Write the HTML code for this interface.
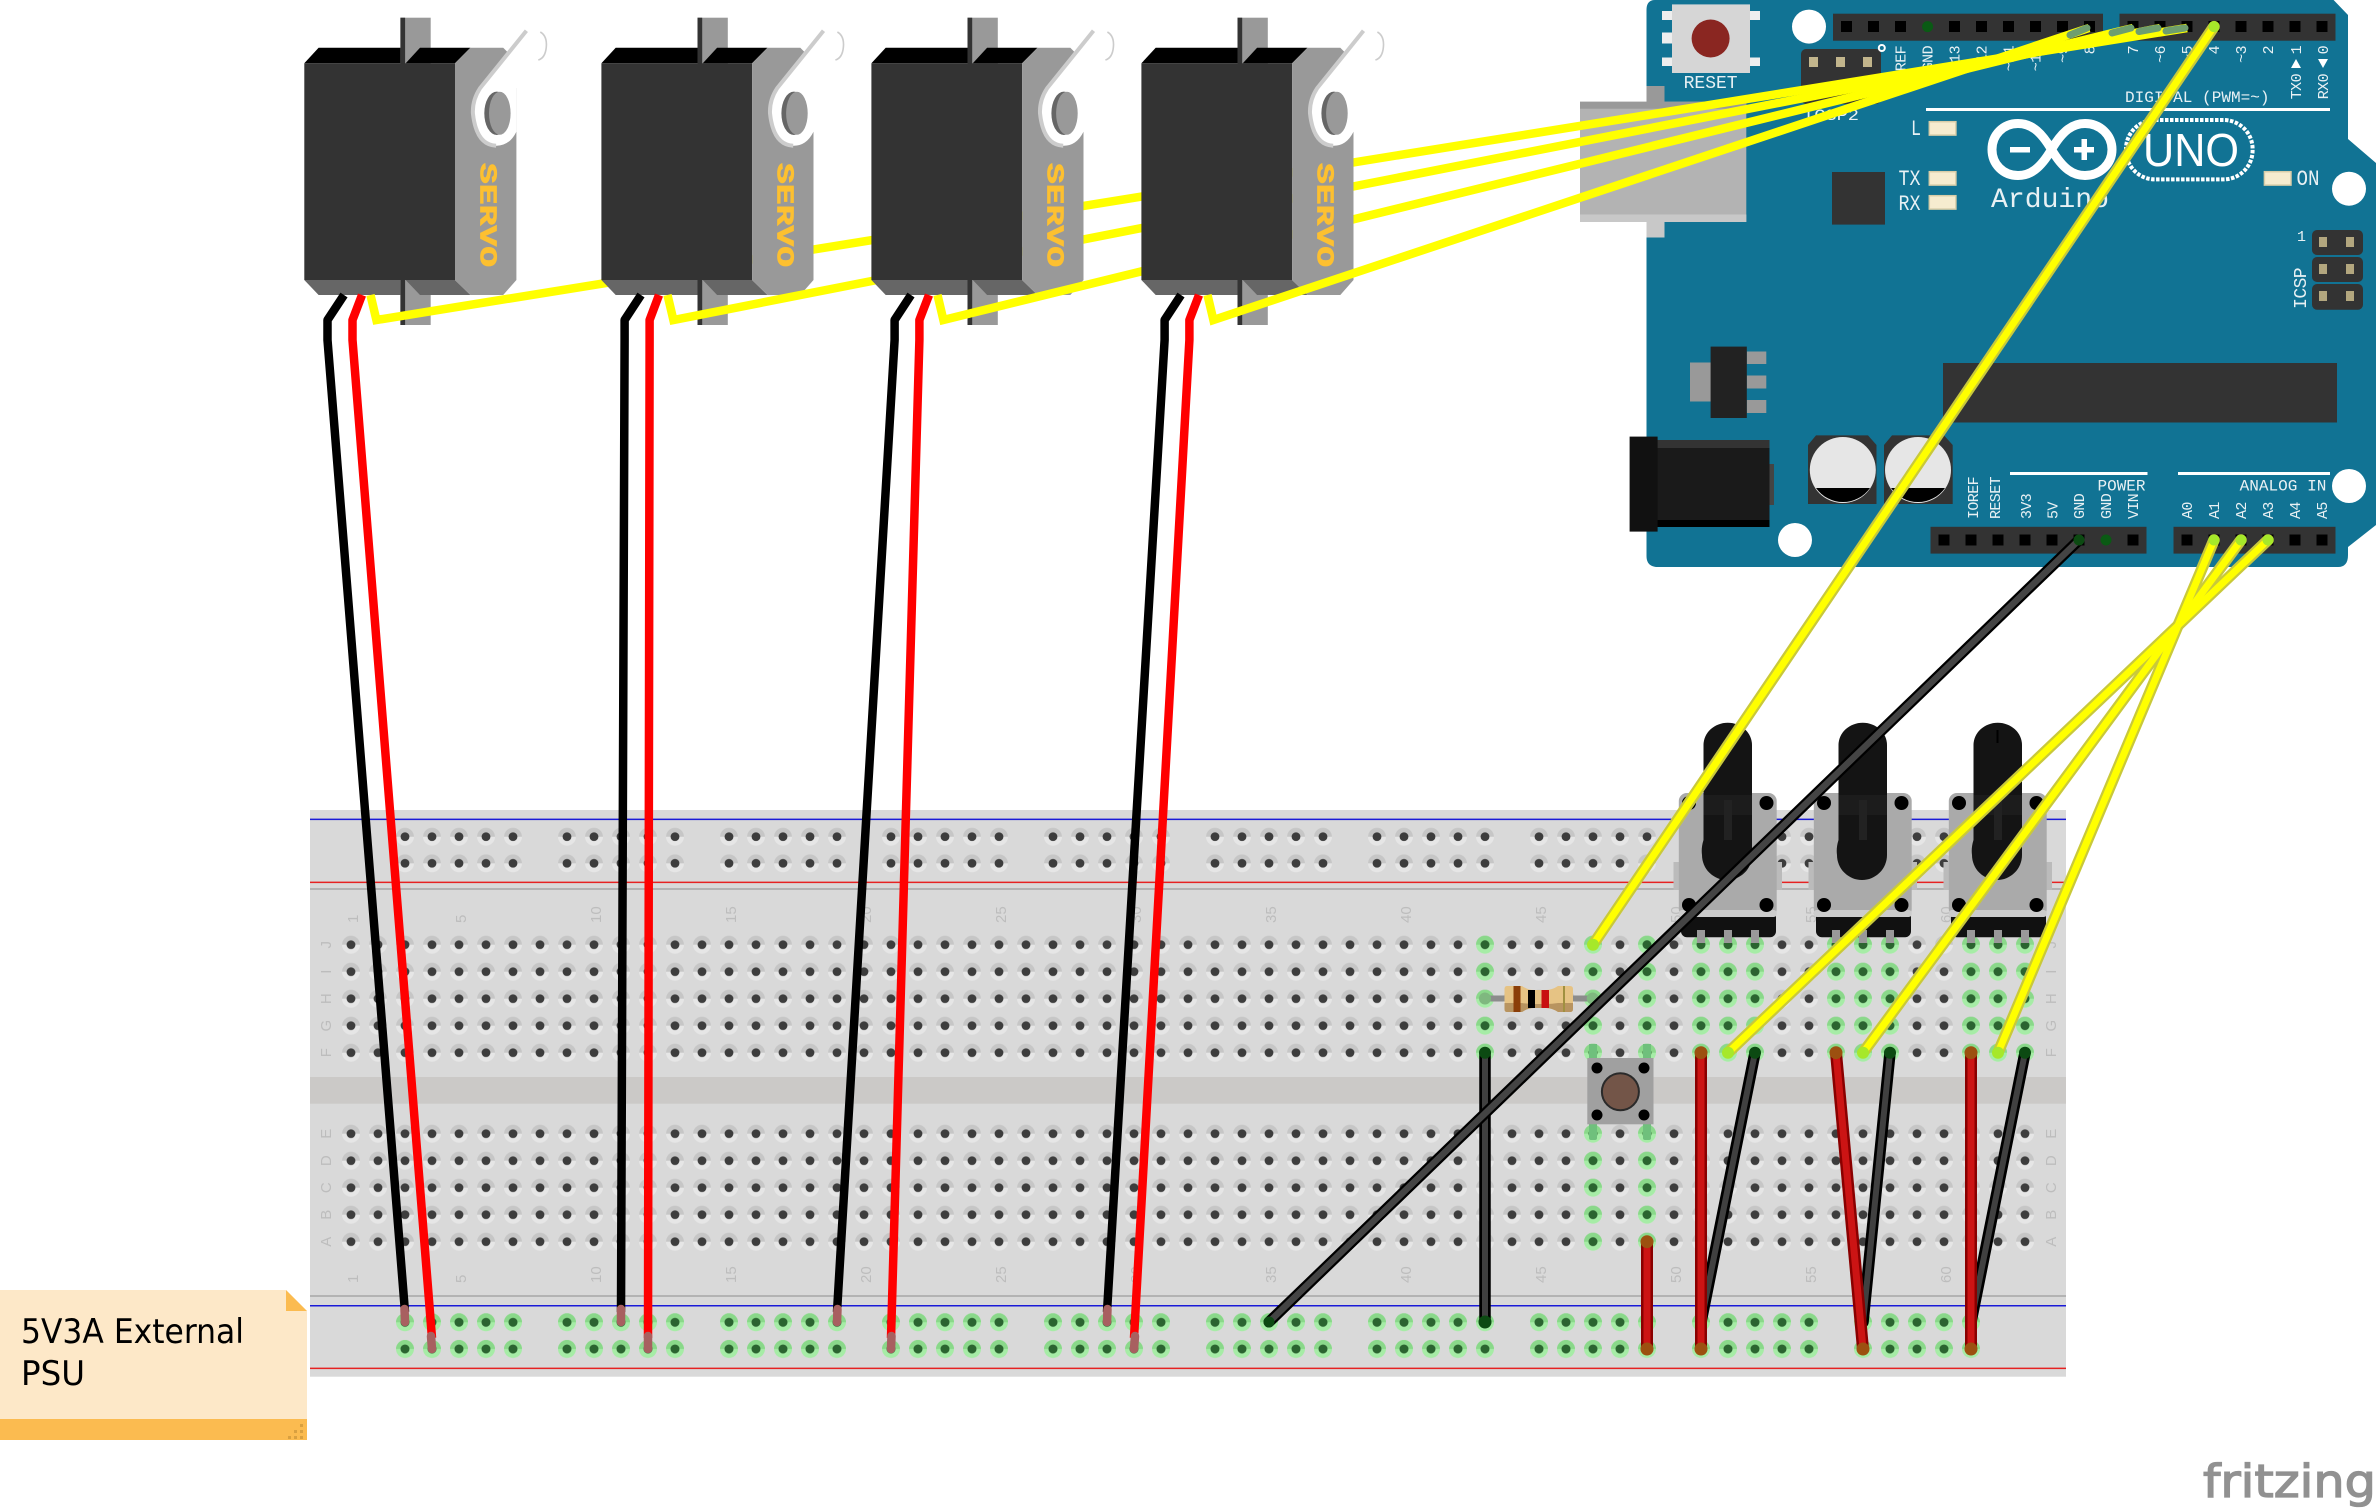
<!DOCTYPE html>
<html><head><meta charset="utf-8"><title>Fritzing diagram</title>
<style>html,body{margin:0;padding:0;background:#fff}svg{display:block}</style></head>
<body>
<svg xmlns="http://www.w3.org/2000/svg" width="2376" height="1509" viewBox="0 0 2376 1509">
<defs>
<g id="hole"><circle cx="13.5" cy="13.5" r="9" fill="#e6e6e6"/><path d="M4.5 13.5a9 9 0 0 1 18 0z" fill="#c6c6c6"/><circle cx="13.5" cy="13.5" r="4.4" fill="#3d3d3d"/></g>
<g id="ghole"><circle cx="13.5" cy="13.5" r="9" fill="#a6eca6"/><path d="M4.5 13.5a9 9 0 0 1 18 0z" fill="#8ad88a"/><circle cx="13.5" cy="13.5" r="4.5" fill="#2b6430"/></g>
<pattern id="hT" patternUnits="userSpaceOnUse" x="337.5" y="823.2" width="27" height="26.6"><use href="#hole"/></pattern>
<pattern id="hU" patternUnits="userSpaceOnUse" x="337.5" y="931.2" width="27" height="27"><use href="#hole"/></pattern>
<pattern id="hL" patternUnits="userSpaceOnUse" x="337.5" y="1120.2" width="27" height="27"><use href="#hole"/></pattern>
<pattern id="gU" patternUnits="userSpaceOnUse" x="337.5" y="931.2" width="27" height="27"><use href="#ghole"/></pattern>
<pattern id="gL" patternUnits="userSpaceOnUse" x="337.5" y="1120.2" width="27" height="27"><use href="#ghole"/></pattern>
<pattern id="gB" patternUnits="userSpaceOnUse" x="337.5" y="1308.8" width="27" height="26.7"><use href="#ghole"/></pattern>
<g id="servo">
 <rect x="96.1" y="17.7" width="30.3" height="307.3" fill="#999"/>
 <rect x="96.1" y="17.7" width="4.7" height="307.3" fill="#333"/>
 <rect x="0" y="63.3" width="150.7" height="216.7" fill="#333"/>
 <polygon points="0,63.3 14.3,47.7 96.1,47.7 96.1,63.3" fill="#000"/>
 <polygon points="101.4,63.3 115.7,47.7 166.1,47.7 150.7,63.3" fill="#000"/>
 <polygon points="0,280 14.3,295 96.1,295 96.1,280" fill="#666"/>
 <polygon points="101.4,280 115.7,295 166.1,295 150.7,280" fill="#666"/>
 <polygon points="150.7,63.3 166.1,47.7 198.9,47.7 212.1,61 212.1,280 198.9,295 166.1,295 150.7,280" fill="#999"/>
 <path d="M222.1 30.7Q228 27 233 29.3Q243 36 242 47Q241 58 234 60L212.1 88V131.7Q205 146 191.8 145.7Q172 145 168.6 113.3Q168 100 175.7 88.3Z" fill="#fff"/>
 <path d="M222.1 30.7L175.7 88.3Q168 100 168.6 113.3Q172 145 191.8 145.7" fill="none" stroke="#ccc" stroke-width="4"/>
 <path d="M236 32Q243 36 242 47Q241 58 234 60" fill="none" stroke="#ccc" stroke-width="1.6"/>
 <ellipse cx="192.5" cy="113.3" rx="12.5" ry="21.7" fill="#666"/>
 <ellipse cx="195.5" cy="113.3" rx="10.8" ry="21.5" fill="#999"/>
</g>
<g id="pot">
 <rect x="1673.5" y="862" width="6" height="28" fill="#bbb"/><rect x="1776" y="862" width="6" height="28" fill="#bbb"/>
 <rect x="1681" y="905" width="95" height="32.3" rx="6" fill="#111"/>
 <rect x="1697" y="930" width="8" height="13" fill="#999"/><rect x="1724" y="930" width="8" height="13" fill="#999"/><rect x="1751" y="930" width="8" height="13" fill="#999"/>
 <rect x="1678.8" y="793" width="97.9" height="124" rx="8" fill="#aaa"/>
 <rect x="1678.8" y="910" width="97.9" height="7" rx="3" fill="#ccc"/>
 <circle cx="1689" cy="803" r="7" fill="#000"/><circle cx="1766.5" cy="803" r="7" fill="#000"/><circle cx="1689" cy="905" r="7" fill="#000"/><circle cx="1766.5" cy="905" r="7" fill="#000"/>
 <path d="M1703.5 745a24 22 0 0 1 48.500 0V855a25 25 0 0 1-50 0Q1701 848 1703.500 840Z" fill="#141414"/>
 <rect x="1703.500" y="795" width="48.500" height="20" fill="#1c1c1c"/><rect x="1724" y="800" width="8" height="40" fill="#222"/>
</g>
</defs>

<!-- breadboard -->
<rect x="310" y="810" width="1756" height="566.700" fill="#d9d9d9"/>
<rect x="310" y="1077" width="1756" height="26.700" fill="#cbc9c7"/>
<rect x="310" y="888" width="1756" height="2" fill="#b3b3b3"/><rect x="310" y="1295" width="1756" height="2" fill="#b3b3b3"/>
<rect x="310" y="818.600" width="1756" height="1.500" fill="#1a1ad8"/><rect x="310" y="881.600" width="1756" height="1.500" fill="#e62222"/>
<rect x="310" y="1305" width="1756" height="1.500" fill="#1a1ad8"/><rect x="310" y="1367.600" width="1756" height="1.500" fill="#e62222"/>
<rect x="337.500" y="931.200" width="1701" height="135" fill="url(#hU)"/>
<rect x="337.500" y="1120.200" width="1701" height="135" fill="url(#hL)"/>
<g fill="url(#hT)"><rect x="391.500" y="823.200" width="135" height="53.200"/><rect x="553.500" y="823.200" width="135" height="53.200"/><rect x="715.500" y="823.200" width="135" height="53.200"/><rect x="877.500" y="823.200" width="135" height="53.200"/><rect x="1039.500" y="823.200" width="135" height="53.200"/><rect x="1201.500" y="823.200" width="135" height="53.200"/><rect x="1363.500" y="823.200" width="135" height="53.200"/><rect x="1525.500" y="823.200" width="135" height="53.200"/><rect x="1687.500" y="823.200" width="135" height="53.200"/><rect x="1849.500" y="823.200" width="135" height="53.200"/></g>
<g fill="url(#gB)"><rect x="391.500" y="1308.800" width="135" height="53.400"/><rect x="553.500" y="1308.800" width="135" height="53.400"/><rect x="715.500" y="1308.800" width="135" height="53.400"/><rect x="877.500" y="1308.800" width="135" height="53.400"/><rect x="1039.500" y="1308.800" width="135" height="53.400"/><rect x="1201.500" y="1308.800" width="135" height="53.400"/><rect x="1363.500" y="1308.800" width="135" height="53.400"/><rect x="1525.500" y="1308.800" width="135" height="53.400"/><rect x="1687.500" y="1308.800" width="135" height="53.400"/><rect x="1849.500" y="1308.800" width="135" height="53.400"/></g>
<g fill="url(#gU)"><rect x="1471.500" y="931.200" width="27" height="135"/><rect x="1579.500" y="931.200" width="27" height="135"/><rect x="1633.500" y="931.200" width="27" height="135"/><rect x="1687.500" y="931.200" width="81" height="135"/><rect x="1822.500" y="931.200" width="81" height="135"/><rect x="1957.500" y="931.200" width="81" height="135"/></g>
<g fill="url(#gL)"><rect x="1579.500" y="1120.200" width="27" height="135"/><rect x="1633.500" y="1120.200" width="27" height="135"/></g>

<!-- breadboard labels -->
<g font-family="'Liberation Sans',sans-serif" font-size="15" fill="#bdbdbd">
<text transform="translate(358,923) rotate(-90)">1</text><text transform="translate(466,923) rotate(-90)">5</text><text transform="translate(601,923) rotate(-90)">10</text><text transform="translate(736,923) rotate(-90)">15</text><text transform="translate(871,923) rotate(-90)">20</text><text transform="translate(1006,923) rotate(-90)">25</text><text transform="translate(1141,923) rotate(-90)">30</text><text transform="translate(1276,923) rotate(-90)">35</text><text transform="translate(1411,923) rotate(-90)">40</text><text transform="translate(1546,923) rotate(-90)">45</text><text transform="translate(1681,923) rotate(-90)">50</text><text transform="translate(1816,923) rotate(-90)">55</text><text transform="translate(1951,923) rotate(-90)">60</text>
<text transform="translate(358,1283) rotate(-90)">1</text><text transform="translate(466,1283) rotate(-90)">5</text><text transform="translate(601,1283) rotate(-90)">10</text><text transform="translate(736,1283) rotate(-90)">15</text><text transform="translate(871,1283) rotate(-90)">20</text><text transform="translate(1006,1283) rotate(-90)">25</text><text transform="translate(1141,1283) rotate(-90)">30</text><text transform="translate(1276,1283) rotate(-90)">35</text><text transform="translate(1411,1283) rotate(-90)">40</text><text transform="translate(1546,1283) rotate(-90)">45</text><text transform="translate(1681,1283) rotate(-90)">50</text><text transform="translate(1816,1283) rotate(-90)">55</text><text transform="translate(1951,1283) rotate(-90)">60</text>
<g text-anchor="middle">
<text transform="translate(331,944.700) rotate(-90)">J</text><text transform="translate(331,971.700) rotate(-90)">I</text><text transform="translate(331,998.700) rotate(-90)">H</text><text transform="translate(331,1025.700) rotate(-90)">G</text><text transform="translate(331,1052.700) rotate(-90)">F</text>
<text transform="translate(331,1133.700) rotate(-90)">E</text><text transform="translate(331,1160.700) rotate(-90)">D</text><text transform="translate(331,1187.700) rotate(-90)">C</text><text transform="translate(331,1214.700) rotate(-90)">B</text><text transform="translate(331,1241.700) rotate(-90)">A</text>
<text transform="translate(2056,944.700) rotate(-90)">J</text><text transform="translate(2056,971.700) rotate(-90)">I</text><text transform="translate(2056,998.700) rotate(-90)">H</text><text transform="translate(2056,1025.700) rotate(-90)">G</text><text transform="translate(2056,1052.700) rotate(-90)">F</text>
<text transform="translate(2056,1133.700) rotate(-90)">E</text><text transform="translate(2056,1160.700) rotate(-90)">D</text><text transform="translate(2056,1187.700) rotate(-90)">C</text><text transform="translate(2056,1214.700) rotate(-90)">B</text><text transform="translate(2056,1241.700) rotate(-90)">A</text>
</g></g>

<!-- resistor -->
<rect x="1485" y="995.500" width="108" height="6" fill="#8c8c8c"/>
<circle cx="1485" cy="998.500" r="6" fill="#7fb87f"/><circle cx="1592.700" cy="998.500" r="6" fill="#7fb87f"/>
<path d="M1507 986H1522Q1528 990 1534 990H1546Q1552 990 1558 986H1570Q1573 986 1573 989V1009Q1573 1012 1570 1012H1558Q1552 1008 1546 1008H1534Q1528 1008 1522 1012H1507Q1504.500 1012 1504.500 1009V989Q1504.500 986 1507 986Z" fill="#e6c384"/>
<path d="M1504.500 1003H1522Q1528 1004 1534 1004H1546Q1552 1004 1558 1003H1573V1009Q1573 1012 1570 1012H1558Q1552 1008 1546 1008H1534Q1528 1008 1522 1012H1507Q1504.500 1012 1504.500 1009Z" fill="#b89460"/>
<rect x="1513.500" y="986" width="7" height="26" fill="#8b3e08"/><rect x="1528" y="990" width="7" height="18" fill="#000"/><rect x="1541.500" y="990" width="7.500" height="18" fill="#c81010"/><rect x="1563" y="986" width="2" height="26" fill="#a09040"/>

<!-- button -->
<rect x="1589" y="1044" width="8" height="20" fill="#6fc07c"/><rect x="1643" y="1044" width="8" height="20" fill="#6fc07c"/>
<rect x="1589" y="1120" width="8" height="20" rx="2" fill="#6fc07c"/><rect x="1643" y="1120" width="8" height="20" rx="2" fill="#6fc07c"/>
<rect x="1587.300" y="1058" width="66.200" height="66.300" fill="#a0a0a0"/>
<circle cx="1597" cy="1068" r="5.500" fill="#000"/><circle cx="1644" cy="1068" r="5.500" fill="#000"/><circle cx="1597" cy="1115" r="5.500" fill="#000"/><circle cx="1644" cy="1115" r="5.500" fill="#000"/>
<circle cx="1620.400" cy="1091.700" r="18.500" fill="#735548" stroke="#2a2a2a" stroke-width="2"/>

<!-- pots -->
<use href="#pot"/><use href="#pot" x="135"/><use href="#pot" x="270"/>
<rect x="1996.500" y="730" width="2" height="13" fill="#000"/>

<!-- arduino -->
<path d="M1655 0H2333.600L2348 15V139L2376 163V525L2348 547V555Q2348 567 2338 567H1658Q1646.500 567 1646.500 556V10Q1646.500 0 1655 0Z" fill="#117394"/>
<rect x="1580" y="101.700" width="166.300" height="120.300" fill="#b3b3b3"/>
<rect x="1580" y="101.700" width="166.300" height="7" fill="#999"/><rect x="1580" y="214.500" width="166.300" height="7.500" fill="#c8c8c8"/>
<rect x="1646.500" y="86" width="18" height="16" fill="#999"/><rect x="1646.500" y="222" width="18" height="15.500" fill="#c8c8c8"/>
<rect x="1672" y="4.400" width="78" height="68.600" fill="#d6d6d6"/>
<g fill="#eee"><rect x="1662" y="11" width="10" height="9"/><rect x="1662" y="32.500" width="10" height="11"/><rect x="1662" y="57.500" width="10" height="8.500"/><rect x="1750" y="11" width="10" height="9"/><rect x="1750" y="57.500" width="10" height="8.500"/></g>
<circle cx="1710.600" cy="38.500" r="19" fill="#8a2621"/>
<g fill="#fff"><circle cx="1809" cy="26.600" r="17"/><circle cx="2349" cy="188.700" r="17"/><circle cx="2349" cy="486" r="17"/><circle cx="1795" cy="540" r="17"/></g>
<g fill="#333"><rect x="1833" y="13.700" width="270" height="27"/><rect x="2119.500" y="13.700" width="216" height="27"/><rect x="1930.500" y="526.800" width="216" height="26.800"/><rect x="2173.500" y="526.800" width="162" height="26.800"/><rect x="1801" y="49" width="80" height="55" rx="5"/></g>
<g fill="#000"><rect x="1841" y="21" width="11" height="11"/><rect x="1868" y="21" width="11" height="11"/><rect x="1895" y="21" width="11" height="11"/><rect x="1949" y="21" width="11" height="11"/><rect x="1976" y="21" width="11" height="11"/><rect x="2003" y="21" width="11" height="11"/><rect x="2030" y="21" width="11" height="11"/><rect x="2057" y="21" width="11" height="11"/><rect x="2084" y="21" width="11" height="11"/><rect x="2127.500" y="21" width="11" height="11"/><rect x="2154.500" y="21" width="11" height="11"/><rect x="2181.500" y="21" width="11" height="11"/><rect x="2208.500" y="21" width="11" height="11"/><rect x="2235.500" y="21" width="11" height="11"/><rect x="2262.500" y="21" width="11" height="11"/><rect x="2289.500" y="21" width="11" height="11"/><rect x="2316.500" y="21" width="11" height="11"/>
<rect x="1938.500" y="534.500" width="11" height="11"/><rect x="1965.500" y="534.500" width="11" height="11"/><rect x="1992.500" y="534.500" width="11" height="11"/><rect x="2019.500" y="534.500" width="11" height="11"/><rect x="2046.500" y="534.500" width="11" height="11"/><rect x="2073.500" y="534.500" width="11" height="11"/><rect x="2127.500" y="534.500" width="11" height="11"/><rect x="2181.500" y="534.500" width="11" height="11"/><rect x="2208.500" y="534.500" width="11" height="11"/><rect x="2235.500" y="534.500" width="11" height="11"/><rect x="2262.500" y="534.500" width="11" height="11"/><rect x="2289.500" y="534.500" width="11" height="11"/><rect x="2316.500" y="534.500" width="11" height="11"/></g>
<ellipse cx="1927.600" cy="26.600" rx="5.500" ry="5.500" fill="#0a5a14"/><ellipse cx="2106" cy="540" rx="5.500" ry="5.500" fill="#0a5a14"/>
<g fill="#c2b58c"><rect x="1809" y="57" width="9" height="10"/><rect x="1836" y="57" width="9" height="10"/><rect x="1863" y="57" width="9" height="10"/></g>
<circle cx="1881.800" cy="48" r="3" fill="#117394" stroke="#fff" stroke-width="2"/>
<!-- logo -->
<path d="M2051.500 149.500C2040 130 2030 123.500 2018 123.500C2003 123.500 1992 135 1992 149.500C1992 164 2003 175.500 2018 175.500C2030 175.500 2040 169 2051.500 149.500C2063 130 2073 123.500 2085 123.500C2100 123.500 2112 135 2112 149.500C2112 164 2100 175.500 2085 175.500C2073 175.500 2063 169 2051.500 149.500Z" fill="none" stroke="#fff" stroke-width="9"/>
<rect x="2010" y="147" width="20" height="5.500" fill="#fff"/><rect x="2074" y="147" width="20" height="5.500" fill="#fff"/><rect x="2081.500" y="139" width="5.500" height="21" fill="#fff"/>
<rect x="2126" y="120" width="126.600" height="59.400" rx="29" fill="none" stroke="#fff" stroke-width="4" stroke-dasharray="3.500 1.500"/>
<rect x="1926" y="108" width="404" height="3" fill="#fff"/><rect x="2010" y="472" width="137.500" height="3" fill="#fff"/><rect x="2178" y="472" width="152" height="3" fill="#fff"/>
<!-- leds -->
<g fill="#f6eccf" stroke="#d8cda8" stroke-width="1.500"><rect x="1929.300" y="121.700" width="26.600" height="13.400"/><rect x="1929.300" y="171.700" width="26.600" height="13.400"/><rect x="1929.300" y="195.700" width="26.600" height="13.400"/><rect x="2264.400" y="171.700" width="26.600" height="13.400"/></g>
<!-- chips -->
<rect x="1832" y="172" width="53" height="52.600" fill="#333"/>
<rect x="1943" y="363" width="394" height="59.500" fill="#333"/>
<g fill="#999"><rect x="1690" y="362.500" width="21" height="39"/><rect x="1746.800" y="351.500" width="19.500" height="12.500"/><rect x="1746.800" y="375.500" width="19.500" height="13"/><rect x="1746.800" y="400" width="19.500" height="13"/></g>
<rect x="1710.600" y="346.600" width="36.200" height="71.400" fill="#222"/>
<rect x="1769" y="464" width="5" height="41" fill="#444"/>
<rect x="1657" y="440" width="112.500" height="87" fill="#1a1a1a"/><rect x="1657" y="440" width="112.500" height="8" fill="#333"/><rect x="1657" y="520" width="112.500" height="7" fill="#000"/>
<rect x="1629.600" y="436.600" width="28" height="95" fill="#111"/>
<polygon points="1816,435.400 1868,435.400 1876.500,445 1876.500,504 1808,504 1808,445" fill="#333"/>
<polygon points="1892,435.400 1944,435.400 1952.700,445 1952.700,504 1884,504 1884,445" fill="#333"/>
<circle cx="1842.800" cy="470" r="33" fill="#e6e6e6"/><path d="M1816 488H1870A33 33 0 0 1 1816 488Z" fill="#000"/>
<circle cx="1918" cy="470" r="33" fill="#e6e6e6"/><path d="M1891 488H1945A33 33 0 0 1 1891 488Z" fill="#000"/>
<g fill="#333"><rect x="2312" y="230" width="51" height="25" rx="5"/><rect x="2312" y="257" width="51" height="25" rx="5"/><rect x="2312" y="284" width="51" height="25.700" rx="5"/></g>
<g fill="#b3a77f"><rect x="2319" y="237" width="8" height="10"/><rect x="2346" y="237" width="8" height="10"/><rect x="2319" y="264" width="8" height="10"/><rect x="2346" y="264" width="8" height="10"/><rect x="2319" y="291" width="8" height="10"/><rect x="2346" y="291" width="8" height="10"/></g>
<!-- arduino text -->
<g font-family="'Liberation Mono',monospace" fill="#e8f1f4" font-size="15" letter-spacing="-0.6">
<text x="1683.600" y="88" font-size="18" letter-spacing="0" textLength="54" lengthAdjust="spacingAndGlyphs">RESET</text>
<text x="1803" y="120" font-size="16" letter-spacing="0" textLength="56" lengthAdjust="spacingAndGlyphs">ICSP2</text>
<text x="2125" y="102" font-size="16" letter-spacing="0" textLength="144.500" lengthAdjust="spacingAndGlyphs">DIGITAL (PWM=~)</text>
<text x="2145.500" y="490.500" text-anchor="end" font-size="16" letter-spacing="0">POWER</text>
<text x="2239.600" y="490.500" font-size="16" letter-spacing="0" textLength="86.800" lengthAdjust="spacingAndGlyphs">ANALOG IN</text>
<text x="1911" y="135" font-size="22" letter-spacing="0" textLength="10" lengthAdjust="spacingAndGlyphs">L</text><text x="1898.500" y="185" font-size="22" letter-spacing="0" textLength="22" lengthAdjust="spacingAndGlyphs">TX</text><text x="1898.500" y="210" font-size="22" letter-spacing="0" textLength="22" lengthAdjust="spacingAndGlyphs">RX</text><text x="2296.500" y="185" font-size="22" letter-spacing="0" textLength="23" lengthAdjust="spacingAndGlyphs">ON</text>
<text x="1991" y="207" font-size="28" letter-spacing="0" textLength="118" lengthAdjust="spacingAndGlyphs">Arduino</text>
<text x="2143" y="166" font-size="46" letter-spacing="0" font-family="'Liberation Sans',sans-serif" fill="#fff" textLength="96" lengthAdjust="spacingAndGlyphs">UNO</text>
<g text-anchor="end">
<text transform="translate(1905.500,46) rotate(-90)">AREF</text><text transform="translate(1932.500,46) rotate(-90)">GND</text><text transform="translate(1959.500,46) rotate(-90)">13</text><text transform="translate(1986.500,46) rotate(-90)">12</text><text transform="translate(2013.500,46) rotate(-90)">~11</text><text transform="translate(2040.500,46) rotate(-90)">~10</text><text transform="translate(2067.500,46) rotate(-90)">~9</text><text transform="translate(2094.500,46) rotate(-90)">8</text><text transform="translate(2138,46) rotate(-90)">7</text><text transform="translate(2165,46) rotate(-90)">~6</text><text transform="translate(2192,46) rotate(-90)">~5</text><text transform="translate(2219,46) rotate(-90)">4</text><text transform="translate(2246,46) rotate(-90)">~3</text><text transform="translate(2273,46) rotate(-90)">2</text><text transform="translate(2301,46) rotate(-90)">1</text><text transform="translate(2328,46) rotate(-90)">0</text>
<text transform="translate(2301,74) rotate(-90)">TX0</text><text transform="translate(2328,74) rotate(-90)">RX0</text>
<text transform="translate(2306,268) rotate(-90)" font-size="18">ICSP</text>
</g>
<text x="2297" y="241" font-size="15">1</text>
<text transform="translate(1978,519) rotate(-90)">IOREF</text><text transform="translate(2000,519) rotate(-90)">RESET</text><text transform="translate(2031,519) rotate(-90)">3V3</text><text transform="translate(2057.500,519) rotate(-90)">5V</text><text transform="translate(2084,519) rotate(-90)">GND</text><text transform="translate(2111,519) rotate(-90)">GND</text><text transform="translate(2138,519) rotate(-90)">VIN</text>
<text transform="translate(2192,519) rotate(-90)">A0</text><text transform="translate(2219,519) rotate(-90)">A1</text><text transform="translate(2246,519) rotate(-90)">A2</text><text transform="translate(2273,519) rotate(-90)">A3</text><text transform="translate(2300,519) rotate(-90)">A4</text><text transform="translate(2327,519) rotate(-90)">A5</text>
</g>
<polygon points="2296,59 2301,68 2291,68" fill="#fff"/><polygon points="2323,68 2328,59 2318,59" fill="#fff"/>

<!-- servos + yellow wires (layered) -->
<g fill="none" stroke="#ffff00" stroke-width="8.500" stroke-linejoin="miter">
<use href="#servo" x="304.300" stroke="none"/>
<polyline points="370.500,295 376.400,320 2187,28"/>
<use href="#servo" x="601.400" stroke="none"/>
<polyline points="667.500,295 673.400,320 2160,28"/>
<use href="#servo" x="871.400" stroke="none"/>
<polyline points="937.500,295 943.400,320 2133,28"/>
<use href="#servo" x="1141.400" stroke="none"/>
<polyline points="1207.500,295 1213.400,320 2089,28"/>
</g>
<g font-family="'Liberation Mono',monospace" font-weight="bold" font-size="24" fill="#fdc030" stroke="#fdc030" stroke-width="0.7">
<text transform="translate(480.300,163) rotate(90)" textLength="104" lengthAdjust="spacingAndGlyphs">SERVO</text>
<text transform="translate(777.400,163) rotate(90)" textLength="104" lengthAdjust="spacingAndGlyphs">SERVO</text>
<text transform="translate(1047.400,163) rotate(90)" textLength="104" lengthAdjust="spacingAndGlyphs">SERVO</text>
<text transform="translate(1317.400,163) rotate(90)" textLength="104" lengthAdjust="spacingAndGlyphs">SERVO</text>
</g>
<!-- yellow wire tips on header -->
<g stroke="#6e9e6e" stroke-width="7" stroke-linecap="round" fill="none">
<line x1="2166" y1="31" x2="2185" y2="28"/><line x1="2139" y1="31.500" x2="2158" y2="28"/><line x1="2112" y1="33" x2="2131" y2="28"/><line x1="2070" y1="35" x2="2087" y2="28"/>
</g>

<!-- servo power wires -->
<g fill="none" stroke-width="8.500" stroke-linejoin="round">
<g stroke="#000"><polyline points="344,295 327.500,320 327.500,340 405,1312"/><polyline points="641,295 624.600,320 624.600,340 621,1312"/><polyline points="911,295 894.600,320 894.600,340 837,1312"/><polyline points="1181,295 1164.600,320 1164.600,340 1107,1312"/></g>
<g stroke="#ff0000"><polyline points="362,295 352.500,320 352.500,340 432,1338"/><polyline points="659,295 649.600,320 649.600,340 648,1338"/><polyline points="929,295 919.400,320 919.400,340 891,1338"/><polyline points="1199,295 1189.400,320 1189.400,340 1134,1338"/></g>
<g stroke="#a86060" stroke-linecap="round"><line x1="404.500" y1="1309" x2="405" y2="1322"/><line x1="621" y1="1309" x2="621" y2="1322"/><line x1="837.500" y1="1309" x2="837" y2="1322"/><line x1="1107.500" y1="1309" x2="1107" y2="1322"/><line x1="431" y1="1336" x2="432" y2="1349"/><line x1="648" y1="1336" x2="648" y2="1349"/><line x1="891.500" y1="1336" x2="891" y2="1349"/><line x1="1135" y1="1336" x2="1134" y2="1349"/></g>
</g>

<!-- breadboard jumpers -->
<g fill="none" stroke-linecap="round">
<g stroke="#000" stroke-width="11.500"><line x1="1485" y1="1052.700" x2="1485" y2="1322"/><line x1="1755" y1="1052.700" x2="1701" y2="1322"/><line x1="1890" y1="1052.700" x2="1863" y2="1322"/><line x1="2025" y1="1052.700" x2="1971" y2="1322"/></g>
<g stroke="#404040" stroke-width="6"><line x1="1485" y1="1052.700" x2="1485" y2="1322"/><line x1="1755" y1="1052.700" x2="1701" y2="1322"/><line x1="1890" y1="1052.700" x2="1863" y2="1322"/><line x1="2025" y1="1052.700" x2="1971" y2="1322"/></g>
<g stroke="#8a0000" stroke-width="12"><line x1="1647" y1="1241.700" x2="1647" y2="1349"/><line x1="1701" y1="1052.700" x2="1701" y2="1349"/><line x1="1836" y1="1052.700" x2="1863" y2="1349"/><line x1="1971" y1="1052.700" x2="1971" y2="1349"/></g>
<g stroke="#cc1414" stroke-width="7"><line x1="1647" y1="1241.700" x2="1647" y2="1349"/><line x1="1701" y1="1052.700" x2="1701" y2="1349"/><line x1="1836" y1="1052.700" x2="1863" y2="1349"/><line x1="1971" y1="1052.700" x2="1971" y2="1349"/></g>
</g>
<g fill="#9c5010"><circle cx="1647" cy="1241.700" r="6.500"/><circle cx="1647" cy="1349" r="6.500"/><circle cx="1701" cy="1052.700" r="6.500"/><circle cx="1701" cy="1349" r="6.500"/><circle cx="1836" cy="1052.700" r="6.500"/><circle cx="1863" cy="1349" r="6.500"/><circle cx="1971" cy="1052.700" r="6.500"/><circle cx="1971" cy="1349" r="6.500"/></g>
<g fill="#0c4a12"><circle cx="1485" cy="1052.700" r="6"/><circle cx="1485" cy="1322" r="6.500"/><circle cx="1755" cy="1052.700" r="6"/><circle cx="1890" cy="1052.700" r="6"/><circle cx="2025" cy="1052.700" r="6"/></g>

<!-- long wires -->
<g fill="none" stroke-linecap="round">
<line x1="2079" y1="540" x2="1269" y2="1322" stroke="#000" stroke-width="11"/>
<line x1="2079" y1="540" x2="1269" y2="1322" stroke="#444" stroke-width="6.500"/>
<g stroke="#c9c93a" stroke-width="11.500"><line x1="2214" y1="26.600" x2="1593" y2="944.700"/><line x1="2268" y1="540" x2="1728" y2="1052.700"/><line x1="2241" y1="540" x2="1863" y2="1052.700"/><line x1="2214" y1="540" x2="1998" y2="1052.700"/></g>
<g stroke="#ffff00" stroke-width="7"><line x1="2214" y1="26.600" x2="1593" y2="944.700"/><line x1="2268" y1="540" x2="1728" y2="1052.700"/><line x1="2241" y1="540" x2="1863" y2="1052.700"/><line x1="2214" y1="540" x2="1998" y2="1052.700"/></g>
</g>
<g fill="#a6e82a"><circle cx="2214" cy="26.600" r="5.500"/><circle cx="1593" cy="944.700" r="6"/><circle cx="1728" cy="1052.700" r="6"/><circle cx="1863" cy="1052.700" r="6"/><circle cx="1998" cy="1052.700" r="6"/><circle cx="2214" cy="540" r="5.500"/><circle cx="2241" cy="540" r="5.500"/><circle cx="2268" cy="540" r="5.500"/></g>
<circle cx="1269" cy="1322" r="5.500" fill="#0c4a12"/><circle cx="2079" cy="540" r="5.500" fill="#0c4a12"/>

<!-- note -->
<polygon points="0,1290 286,1290 307,1311 307,1440 0,1440" fill="#fde8c8"/>
<polygon points="286,1290 307,1311 286,1311" fill="#fbbb50"/>
<rect x="0" y="1419" width="307" height="21" fill="#fbbb50"/>
<g fill="#d9a040"><rect x="300" y="1424" width="3" height="3"/><rect x="300" y="1430" width="3" height="3"/><rect x="300" y="1436" width="3" height="3"/><rect x="294" y="1430" width="3" height="3"/><rect x="294" y="1436" width="3" height="3"/><rect x="288" y="1436" width="3" height="3"/></g>
<g font-family="'DejaVu Sans','Liberation Sans',sans-serif" font-size="34" fill="#000">
<text x="21" y="1343" textLength="223" lengthAdjust="spacingAndGlyphs">5V3A External</text>
<text x="21" y="1385" textLength="64" lengthAdjust="spacingAndGlyphs">PSU</text>
</g>
<text x="2203" y="1497" font-family="'DejaVu Sans',sans-serif" font-size="45" fill="#919191" stroke="#919191" stroke-width="1.300" textLength="173" lengthAdjust="spacingAndGlyphs">fritzing</text>
</svg>
</body></html>
